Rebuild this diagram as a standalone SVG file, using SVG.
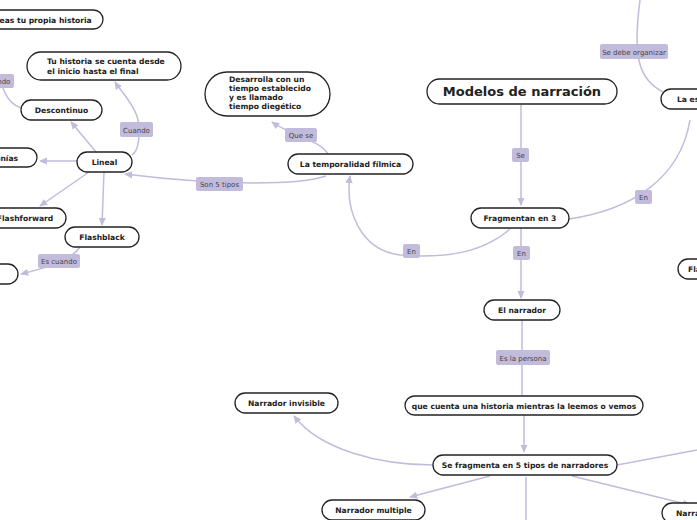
<svg xmlns="http://www.w3.org/2000/svg" width="697" height="520" viewBox="0 0 697 520">
<style>
.n rect{fill:#fff;stroke:#222;stroke-width:1.3}
.n text{font-family:"DejaVu Sans",Verdana,sans-serif;font-weight:bold;font-size:7.6px;fill:#222;text-anchor:middle}
.n text.s{text-anchor:start}
.l rect{fill:#c2bbdc}
.l text{font-family:"DejaVu Sans",Verdana,sans-serif;font-size:7px;fill:#444;text-anchor:middle}
.c path{fill:none;stroke:#c2bbdc;stroke-width:1.5}
</style>
<defs><marker id="a" viewBox="0 0 10 10" refX="8" refY="5" markerWidth="6" markerHeight="6" orient="auto"><path d="M0,1 L9,5 L0,9 z" fill="#c2bbdc"/></marker></defs>
<rect width="697" height="520" fill="#fff"/>
<g class="c">
<path d="M521,105 V205" marker-end="url(#a)"/>
<path d="M521,228 V298" marker-end="url(#a)"/>
<path d="M510,229 C480,255 440,258 400,255 C360,250 345,210 350,176" marker-end="url(#a)"/>
<path d="M569,219 C630,210 680,180 690,120"/>
<path d="M663,92 C640,80 632,60 640,0"/>
<path d="M522,320 V396"/>
<path d="M524,415 V452" marker-end="url(#a)"/>
<path d="M433,465 C380,465 320,450 294,416" marker-end="url(#a)"/>
<path d="M490,476 L410,497" marker-end="url(#a)"/>
<path d="M572,476 L690,505" marker-end="url(#a)"/>
<path d="M526,477 V520"/>
<path d="M617,465 L697,450"/>
<path d="M328,154 C320,140 290,135 272,122" marker-end="url(#a)"/>
<path d="M326,176 C300,185 220,186 125,174" marker-end="url(#a)"/>
<path d="M132,155 C140,150 140,130 138,120 C135,105 120,90 115,82" marker-end="url(#a)"/>
<path d="M96,152 L71,122" marker-end="url(#a)"/>
<path d="M77,161 H40" marker-end="url(#a)"/>
<path d="M89,172 L40,206" marker-end="url(#a)"/>
<path d="M104,172 L102,225" marker-end="url(#a)"/>
<path d="M80,247 C70,262 45,268 21,274" marker-end="url(#a)"/>
<path d="M22,108 C10,105 5,95 2,85"/>
</g>
<g id="labels">
<g class="l"><rect x="512" y="148" width="17" height="14" rx="2"/><text x="520.5" y="158">Se</text></g>
<g class="l"><rect x="403" y="244" width="17" height="14" rx="2"/><text x="411.5" y="254">En</text></g>
<g class="l"><rect x="513" y="246" width="17" height="14" rx="2"/><text x="521.5" y="256">En</text></g>
<g class="l"><rect x="635" y="190" width="17" height="14" rx="2"/><text x="643.5" y="200">En</text></g>
<g class="l"><rect x="600" y="44" width="68" height="15" rx="2"/><text x="634" y="54.5">Se debe organizar</text></g>
<g class="l"><rect x="496" y="350" width="54" height="15" rx="2"/><text x="523" y="360.5">Es la persona</text></g>
<g class="l"><rect x="285" y="128" width="32" height="14" rx="2"/><text x="301" y="138">Que se</text></g>
<g class="l"><rect x="196" y="177" width="47" height="14" rx="2"/><text x="219.5" y="187">Son 5 tipos</text></g>
<g class="l"><rect x="120" y="122" width="33" height="15" rx="2"/><text x="136.5" y="132.5">Cuando</text></g>
<g class="l"><rect x="38" y="254" width="42" height="14" rx="2"/><text x="59" y="264">Es cuando</text></g>
<g class="l"><rect x="-20" y="74" width="34" height="14" rx="2"/><text x="-3" y="84">Cuando</text></g>
</g>
<g id="n1" class="n"><rect x="427" y="79" width="190" height="25" rx="12.5"/><text x="522" y="96" style="font-size:13px">Modelos de narración</text></g>
<g id="n2" class="n"><rect x="471" y="208" width="98" height="20" rx="10"/><text x="520" y="221">Fragmentan en 3</text></g>
<g id="n3" class="n"><rect x="661" y="89" width="60" height="20" rx="10"/><text class="s" x="677" y="102">La estructura</text></g>
<g id="n4" class="n"><rect x="678" y="259" width="50" height="20" rx="10"/><text class="s" x="688" y="272">Flashback</text></g>
<g id="n5" class="n"><rect x="484" y="300" width="76" height="20" rx="10"/><text x="522" y="313">El narrador</text></g>
<g id="n6" class="n"><rect x="405" y="396" width="238" height="19" rx="9.5"/><text x="524" y="408.5">que cuenta una historia mientras la leemos o vemos</text></g>
<g id="n7" class="n"><rect x="235" y="393" width="103" height="20" rx="10"/><text x="286.5" y="406">Narrador invisible</text></g>
<g id="n8" class="n"><rect x="433" y="455" width="184" height="20" rx="10"/><text x="525" y="468">Se fragmenta en 5 tipos de narradores</text></g>
<g id="n9" class="n"><rect x="322" y="500" width="103" height="20" rx="10"/><text x="373.5" y="513">Narrador multiple</text></g>
<g id="n10" class="n"><rect x="662" y="503" width="80" height="20" rx="10"/><text class="s" x="676" y="516">Narrador</text></g>
<g id="n11" class="n"><rect x="288" y="154" width="125" height="20" rx="10"/><text x="350.5" y="167">La temporalidad fílmica</text></g>
<g id="n12" class="n"><rect x="205" y="72" width="125" height="44" rx="22"/><text class="s" x="229" y="82">Desarrolla con un</text><text class="s" x="229" y="91">tiempo establecido</text><text class="s" x="229" y="100">y es llamado</text><text class="s" x="229" y="109">tiempo diegético</text></g>
<g id="n13" class="n"><rect x="77" y="152" width="55" height="20" rx="10"/><text x="104.5" y="165">Lineal</text></g>
<g id="n14" class="n"><rect x="27" y="52" width="154" height="28" rx="14"/><text class="s" x="47" y="64">Tu historia se cuenta desde</text><text class="s" x="47" y="74">el inicio hasta el final</text></g>
<g id="n15" class="n"><rect x="21" y="100" width="81" height="20" rx="10"/><text x="61.5" y="113">Descontinuo</text></g>
<g id="n16" class="n"><rect x="-40" y="148" width="77" height="19" rx="9.5"/><text x="-3" y="160.5">Polifonías</text></g>
<g id="n17" class="n"><rect x="-30" y="208" width="96" height="20" rx="10"/><text x="25" y="221">Flashforward</text></g>
<g id="n18" class="n"><rect x="65" y="227" width="74" height="20" rx="10"/><text x="102" y="240">Flashblack</text></g>
<g id="n19" class="n"><rect x="-60" y="264" width="78" height="20" rx="10"/><text x="-27" y="277">Flashback</text></g>
<g id="n20" class="n"><rect x="-40" y="10" width="143" height="19" rx="9.5"/><text x="41" y="22.5">Creas tu propia historia</text></g>
</svg>
